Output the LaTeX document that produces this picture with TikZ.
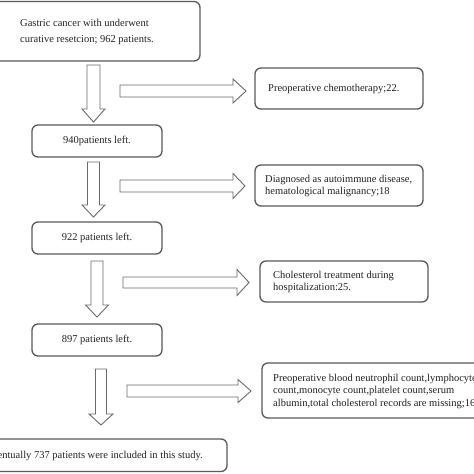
\documentclass[tikz,border=0pt]{standalone}
\usepackage{fontspec}
\setmainfont{Liberation Serif}
\definecolor{boxgray}{HTML}{5A5A5A}
\definecolor{arrgray}{HTML}{6A6A6A}
\definecolor{ink}{HTML}{222222}
\newcommand{\vArrow}[6]{%
  \draw[blk] (#1-#5,#2) -- (#1+#5,#2) -- (#1+#5,#3) -- (#1+#6,#3) -- (#1,#4) -- (#1-#6,#3) -- (#1-#5,#3) -- cycle;}
\newcommand{\hArrow}[6]{%
  \draw[blk] (#1,#4-#5) -- (#2,#4-#5) -- (#2,#4-#6) -- (#3,#4) -- (#2,#4+#6) -- (#2,#4+#5) -- (#1,#4+#5) -- cycle;}
\begin{document}
\begin{tikzpicture}[x=1pt,y=-1pt,
  box/.style={draw=boxgray, line width=1.3pt, rounded corners=6pt, inner sep=0pt, fill=white,
    font=\fontsize{10.5}{12.5}\selectfont, text=ink},
  txt/.style={inner sep=0pt, align=left, font=\fontsize{10.5}{12.5}\selectfont, text=ink},
  blk/.style={draw=arrgray, line width=0.9pt, fill=white, line join=miter}]
\useasboundingbox (0,0) rectangle (474,474);
\fill[white] (0,0) rectangle (474,474);
\clip (0,0) rectangle (474,474);

% left column boxes
\node[box, minimum width=220pt, minimum height=59.5pt] (b0) at (90,31.25) {};
\node[txt, font=\fontsize{10.5}{16}\selectfont, anchor=west] (t0) at (20,32)
  {Gastric cancer with underwent\\curative resetcion; 962 patients.};
\node[box, minimum width=130pt, minimum height=32pt] (b1) at (97,141) {940patients left.};
\node[box, minimum width=130pt, minimum height=32pt] (b2) at (97,238) {922 patients left.};
\node[box, minimum width=130pt, minimum height=32pt] (b3) at (97,340) {897 patients left.};
\node[box, minimum width=347pt, minimum height=32.5pt] (b4) at (53.5,455.25) {};
\node[txt, anchor=east] (t4) at (203,456) {Eventually 737 patients were included in this study.};

% right column boxes
\node[box, minimum width=168pt, minimum height=41pt] (r1) at (339,88.5) {};
\node[txt, anchor=west] (s1) at (268,89) {Preoperative chemotherapy;22.};
\node[box, minimum width=168pt, minimum height=41pt] (r2) at (339,185.5) {};
\node[txt, anchor=west] (s2) at (265,186) {Diagnosed as autoimmune disease,\\hematological malignancy;18};
\node[box, minimum width=168pt, minimum height=41pt] (r3) at (344,281.5) {};
\node[txt, anchor=west] (s3) at (273,282) {Cholesterol treatment during\\hospitalization:25.};
\node[box, minimum width=258pt, minimum height=55pt] (r4) at (391,390.5) {};
\node[txt, anchor=west] (s4) at (273,391) {Preoperative blood neutrophil count,lymphocyte\\count,monocyte count,platelet count,serum\\albumin,total cholesterol records are missing;16};

% down block arrows
\vArrow{93.5}{65}{109}{122}{6.5}{11.5}
\vArrow{93.5}{162}{205}{217}{6}{11.5}
\vArrow{97}{261}{305}{317}{6}{11.5}
\vArrow{101}{369}{414}{425}{5.5}{12}

% right block arrows
\hArrow{120}{233}{246}{91}{6}{12}
\hArrow{120}{233}{245}{186}{6}{12.5}
\hArrow{123}{237}{249}{282.5}{5.5}{13}
\hArrow{127}{238}{251}{391}{6}{11.5}
\end{tikzpicture}
\end{document}
